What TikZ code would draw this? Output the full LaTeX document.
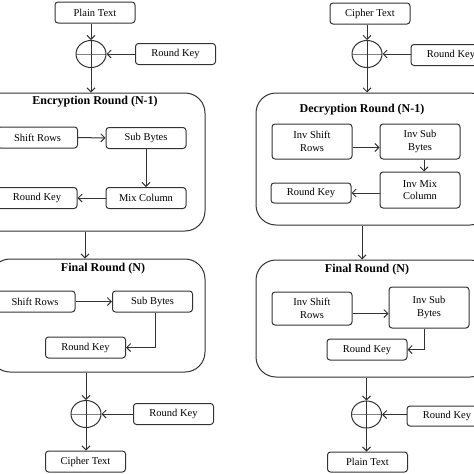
\documentclass[tikz,border=0pt]{standalone}
\usepackage{fontspec}
\setmainfont{Liberation Serif}
\usetikzlibrary{shapes.geometric,arrows.meta}
\definecolor{linec}{HTML}{333333}
\tikzset{
  blk/.style={draw=linec, line width=1pt, rounded corners=3pt, minimum width=80pt,
    minimum height=21pt, inner sep=1pt, align=center, font=\fontsize{10.5}{12.5}\selectfont},
  rnd/.style={draw=linec, line width=1pt, rounded corners=20pt},
  ttl/.style={font=\bfseries\fontsize{12}{14}\selectfont},
  xorop/.style={draw=linec, line width=1pt, ellipse, minimum width=30pt, minimum height=27pt,
    inner sep=0pt, path picture={\draw[gray, line width=0.8pt] (path picture bounding box.west)
    -- (path picture bounding box.east);}},
  flow/.style={draw=linec, line width=1pt, -{Straight Barb[length=4pt,width=8pt]}},
  link/.style={draw=linec, line width=1pt},
}
\begin{document}
\begin{tikzpicture}[x=1pt,y=-1pt]
\useasboundingbox (0,0) rectangle (474,474);
\node[rnd, minimum width=225pt, minimum height=138pt] (enc) at (92.5,162) {};
\node[rnd, minimum width=215pt, minimum height=113pt] (fin) at (97.5,315.5) {};
\node[rnd, minimum width=234pt, minimum height=132pt] (dec) at (373,159) {};
\node[rnd, minimum width=234pt, minimum height=117pt] (fin2) at (373,318.5) {};
\node[ttl] (encT) at (95,102) {Encryption Round (N-1)};
\node[ttl] (finT) at (103,269) {Final Round (N)};
\node[ttl] (decT) at (362,110) {Decryption Round (N-1)};
\node[ttl] (fin2T) at (367,270) {Final Round (N)};
\node[blk] (pt1) at (95,12.5) {Plain Text};
\node[xorop] (xor1) at (91,54) {};
\node[blk] (rk1) at (175.5,54) {Round Key};
\node[blk] (sr1) at (37.5,137.5) {Shift Rows};
\node[blk] (sb1) at (146,138) {Sub Bytes};
\node[blk] (mc1) at (146,198) {Mix Column};
\node[blk] (rk2) at (37,198) {Round Key};
\node[blk] (sr2) at (35,301.5) {Shift Rows};
\node[blk] (sb2) at (152.5,301.5) {Sub Bytes};
\node[blk] (rk3) at (85.5,347.5) {Round Key};
\node[xorop] (xor2) at (86,414) {};
\node[blk] (rk4) at (173.5,414) {Round Key};
\node[blk] (ct2) at (85.5,461.5) {Cipher Text};
\node[blk] (ct1) at (370,13.5) {Cipher Text};
\node[xorop] (xor3) at (367,54) {};
\node[blk] (rk5) at (451,55) {Round Key};
\node[blk, minimum height=35pt] (isr1) at (312,141.5) {Inv Shift\\Rows};
\node[blk, minimum height=35pt] (isb1) at (420,141.5) {Inv Sub\\Bytes};
\node[blk, minimum height=36pt] (imc1) at (420,190) {Inv Mix\\Column};
\node[blk, minimum height=20pt] (rk6) at (311,193) {Round Key};
\node[blk, minimum height=33pt] (isr2) at (312,308.5) {Inv Shift\\Rows};
\node[blk, minimum height=41pt] (isb2) at (429,307.5) {Inv Sub\\Bytes};
\node[blk] (rk7) at (367,349.5) {Round Key};
\node[xorop] (xor4) at (366.5,414.5) {};
\node[blk, minimum height=20pt] (rk8) at (447,416) {Round Key};
\node[blk, minimum height=20pt] (pt2) at (367.5,462) {Plain Text};
\draw[flow] (pt1.south -| xor1) -- (xor1.north);
\draw[flow] (rk1.west) -- (xor1.east);
\draw[flow] (xor1.north) -- (xor1.south |- enc.north);
\draw[flow] (sr1) -- (sb1);
\draw[flow] (sb1) -- (mc1);
\draw[flow] (mc1) -- (rk2);
\draw[flow] (enc.south -| 85,0) -- (fin.north -| 85,0);
\draw[flow] (sr2) -- (sb2);
\draw[flow] ([xshift=2.5pt]sb2.south) |- (rk3.east);
\draw[flow] (fin.south -| xor2) -- (xor2.north);
\draw[flow] (rk4.west) -- (xor2.east);
\draw[flow] (xor2.north) -- (ct2.north -| xor2);
\draw[flow] (ct1.south -| xor3) -- (xor3.north);
\draw[flow] (rk5.west |- xor3) -- (xor3.east);
\draw[flow] (xor3.north) -- (xor3.south |- dec.north);
\draw[flow] ([yshift=-6pt]isr1.east) -- ([yshift=-6pt]isb1.west);
\draw[flow] ([xshift=4pt]isb1.south) -- ([xshift=4pt]imc1.north);
\draw[flow] (imc1.west |- rk6.east) -- (rk6.east);
\draw[flow] (dec.south -| 362,0) -- (fin2.north -| 362,0);
\draw[flow] ([yshift=-5pt]isr2.east) -- ([yshift=-5pt]isr2.east -| isb2.west);
\draw[flow] ([xshift=-5pt]isb2.south) |- (rk7.east);
\draw[flow] (fin2.south -| xor4) -- (xor4.north);
\draw[flow] (rk8.west |- xor4) -- (xor4.east);
\draw[flow] (xor4.north) -- (pt2.north -| xor4);
\end{tikzpicture}
\end{document}
